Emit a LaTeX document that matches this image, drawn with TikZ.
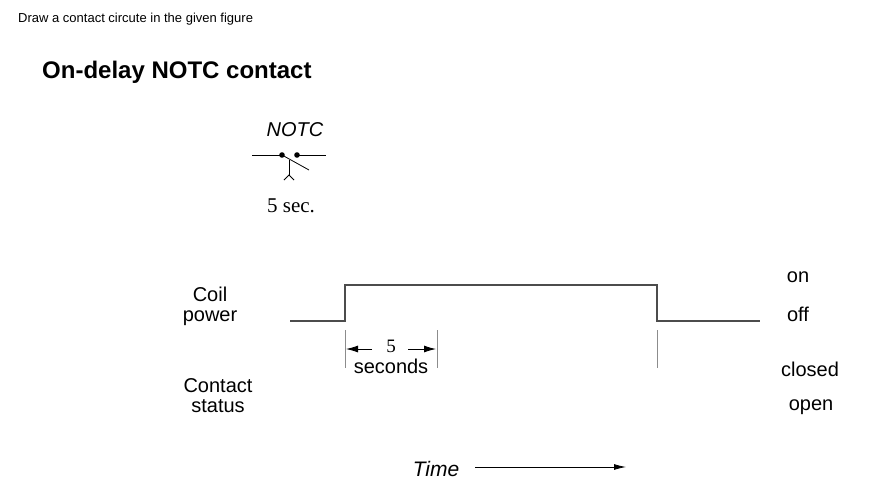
\documentclass[tikz,border=0pt]{standalone}
\usepackage{fontspec}
\setmainfont{Liberation Sans}
\newfontfamily\serifx{Liberation Serif}
\usetikzlibrary{arrows.meta}
\begin{document}
\begin{tikzpicture}[x=1pt,y=-1pt,
  lbl/.style={inner sep=0pt,font=\fontsize{20}{20}\selectfont},
  wave/.style={line width=1.3pt,draw=black!70},
  tick/.style={line width=0.5pt,draw=black!45}]
\useasboundingbox[fill=white] (0,0) rectangle (890,499);
\node[anchor=west,inner sep=0pt,font=\fontsize{13}{15}\selectfont] (hdr) at (18,19) {Draw a contact circute in the given figure};
\node[anchor=west,inner sep=0pt,font=\fontsize{24}{28}\selectfont\bfseries] (ttl) at (42,72) {On-delay NOTC contact};
\node[lbl,font=\fontsize{20}{22}\selectfont\itshape] (notc) at (295,130) {NOTC};
\node[lbl,font=\fontsize{21}{22}\selectfont\serifx] (sec) at (291,206) {5 sec.};
% symbol
\coordinate (l0) at (252,155); \coordinate (d1) at (282,155);
\coordinate (d2) at (297,155); \coordinate (r0) at (326,155);
\draw[line width=0.8pt] (l0) -- (d1) (d2) -- (r0);
\draw[line width=0.8pt] (d1) -- (309,170);
\draw[line width=0.8pt] (289,160) -- (289,176);
\draw[line width=0.8pt] (284,180) -- (289,175) -- (294,180);
\fill (d1) circle (2.8) (d2) circle (2.8);
% labels
\node[lbl,align=center] (coil) at (210,306) {Coil\\power};
\node[lbl,align=center] (cont) at (218,396) {Contact\\status};
\node[lbl] (on) at (798,277) {on};
\node[lbl] (off) at (798,314) {off};
\node[lbl] (cl) at (810,369) {closed};
\node[lbl] (op) at (811,407) {open};
% waveform
\coordinate (w0) at (290,321); \coordinate (w1) at (345,321);
\coordinate (w2) at (345,285); \coordinate (w3) at (657,285);
\coordinate (w4) at (657,321); \coordinate (w5) at (760,321);
\draw[wave] (w0) -- (w1) -- (w2) -- (w3) -- (w4) -- (w5);
\draw[tick] (345,330) -- (345,368) (437,330) -- (437,368) (657,330) -- (657,368);
\draw[-{Latex[length=12pt,width=7pt]},line width=0.9pt] (372,349) -- (346,349);
\draw[-{Latex[length=12pt,width=7pt]},line width=0.9pt] (408,349) -- (436,349);
\node[lbl,font=\fontsize{19}{20}\selectfont\serifx] (five) at (391,346) {5};
\node[lbl] (secs) at (391,366) {seconds};
% time
\node[lbl,font=\fontsize{21}{22}\selectfont\itshape] (time) at (436,469) {Time};
\coordinate (tend) at (626,467);
\draw[-{Latex[length=12pt,width=6pt]},line width=0.8pt] (475,467) -- (tend);
\end{tikzpicture}
\end{document}
